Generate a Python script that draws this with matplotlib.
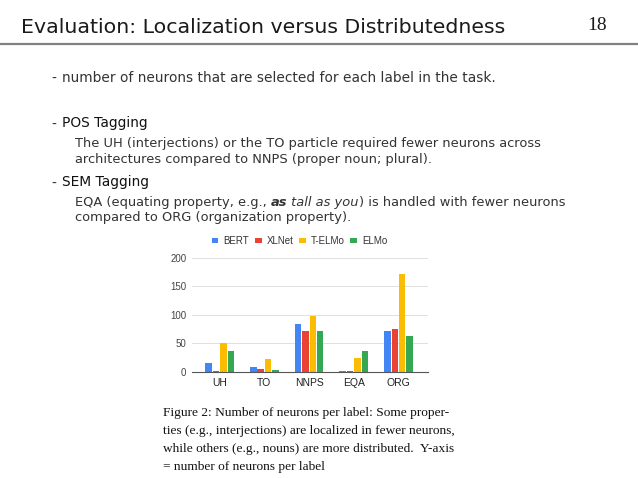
import matplotlib

matplotlib.use("Agg")
import matplotlib.pyplot as plt
import numpy as np

W, H = 638, 478

categories = ["UH", "TO", "NNPS", "EQA", "ORG"]
models = ["BERT", "XLNet", "T-ELMo", "ELMo"]
bert = [16, 8, 84, 1, 72]
xlnet = [2, 5, 72, 1, 76]
telmo = [51, 22, 98, 25, 172]
elmo = [37, 4, 72, 37, 63]
colors = ["#4285F4", "#EA4335", "#FBBC04", "#34A853"]
yticks = [0, 50, 100, 150, 200]

SANS = ["DejaVu Sans"]
CHART = ["Liberation Sans", "DejaVu Sans"]
SERIF = ["Liberation Serif", "DejaVu Serif"]


def fx(x):
    return x / W


def fy(y):
    return 1 - y / H


fig = plt.figure(figsize=(W / 100, H / 100), dpi=100)
fig.patch.set_facecolor("white")

# slide header
fig.text(fx(21), fy(33), "Evaluation: Localization versus Distributedness",
         family=SANS, fontsize=14.75, color="#1a1a1a", va="baseline")
fig.text(fx(607), fy(30), "18", family=SERIF, fontsize=14, color="#1a1a1a",
         ha="right", va="baseline")
fig.add_artist(plt.Line2D([0, 1], [fy(43.5), fy(43.5)], color="#808080", lw=1.6))

body = "#333333"
renderer = fig.canvas.get_renderer()


def line(x, y, txt, size, color=body):
    # y is the baseline in pixels
    return fig.text(fx(x), fy(y), txt, family=SANS, fontsize=size, color=color,
                    va="baseline")


def runs(x, y, parts, size):
    # draw text pieces one after the other on one baseline
    for txt, style, weight in parts:
        t = fig.text(fx(x), fy(y), txt, family=SANS, fontsize=size, color=body,
                     style=style, weight=weight, va="baseline")
        x = t.get_window_extent(renderer).x1


fs_top = 9.9
fs = 9.35
line(51, 83, "-", fs_top)
line(62, 81.5, "number of neurons that are selected for each label in the task.", fs_top)
line(51, 128.5, "-", fs_top)
line(62, 127, "POS Tagging", fs_top, "#111111")
line(75, 146.5, "The UH (interjections) or the TO particle required fewer neurons across", fs)
line(75, 163.5, "architectures compared to NNPS (proper noun; plural).", fs)
line(51, 187.5, "-", fs_top)
line(62, 186, "SEM Tagging", fs_top, "#111111")
runs(75, 205.5, [("EQA (equating property, e.g., ", "normal", "normal"),
                 ("as", "italic", "bold"),
                 (" tall as you", "italic", "normal"),
                 (") is handled with fewer neurons", "normal", "normal")], fs)
line(75, 221.5, "compared to ORG (organization property).", fs)

# bar chart
ax = fig.add_axes([fx(192), fy(372), (428 - 192) / W, 120 / H])
x = np.arange(len(categories))
width = 0.146
step = 0.165
for i, (vals, name) in enumerate(zip([bert, xlnet, telmo, elmo], models)):
    ax.bar(x + (i - 1.5) * step, vals, width, color=colors[i], label=name, zorder=3)
ax.set_xlim(-0.62, 4.66)
ax.set_ylim(0, 210)
ax.set_yticks(yticks)
ax.set_yticklabels([str(v) for v in yticks], family=CHART, fontsize=7, color="#444444")
ax.set_xticks(x)
ax.set_xticklabels(categories, family=CHART, fontsize=7.5, color="#222222")
ax.tick_params(axis="y", length=0, pad=4)
ax.tick_params(axis="x", length=0, pad=4)
ax.grid(axis="y", color="#e0e0e0", lw=0.7, zorder=0)
for s in ["top", "right", "left"]:
    ax.spines[s].set_visible(False)
ax.spines["bottom"].set_color("#555555")
ax.spines["bottom"].set_linewidth(0.8)
ax.spines["bottom"].set_zorder(4)
leg = ax.legend(loc="center", bbox_to_anchor=((299.5 - 192) / 236, 1 + 11 / 120), ncol=4,
                frameon=False, handlelength=0.7, handleheight=0.5, handletextpad=0.5,
                columnspacing=0.6, borderpad=0, prop={"family": CHART, "size": 7})
for t in leg.get_texts():
    t.set_color("#333333")

# caption
caption = [
    "Figure 2: Number of neurons per label: Some proper-",
    "ties (e.g., interjections) are localized in fewer neurons,",
    "while others (e.g., nouns) are more distributed.  Y-axis",
    "= number of neurons per label",
]
for k, txt in enumerate(caption):
    fig.text(fx(163), fy(413 + 18 * k), txt, family=SERIF, fontsize=9.6,
             color="#111111", va="center")

fig.savefig("out.png", dpi=100)
